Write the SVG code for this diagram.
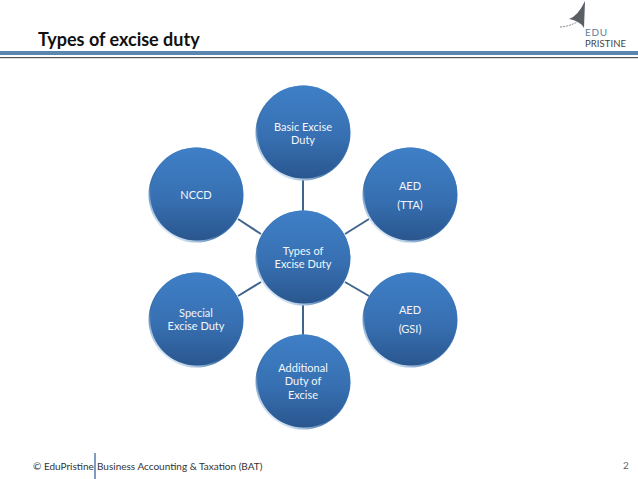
<svg xmlns="http://www.w3.org/2000/svg" width="638" height="479" viewBox="0 0 638 479">
<style>
text{font-family:Lato,"Open Sans","Liberation Sans",sans-serif}
.n{fill:#f2f7fc;font-size:11px;text-anchor:middle}
.c{stroke:#41648c;stroke-width:2;fill:none}
.rim{fill:url(#rim)}
.disc{fill:url(#disc)}
</style>
<defs>
<linearGradient id="disc" x1="0" y1="0" x2="0" y2="1"><stop offset="0" stop-color="#3f7fc6"/><stop offset="0.55" stop-color="#3770b2"/><stop offset="1" stop-color="#2a568e"/></linearGradient>
<linearGradient id="rim" x1="0.2" y1="0.9" x2="0.8" y2="0.1"><stop offset="0" stop-color="#dcebf7"/><stop offset="0.3" stop-color="#3a6ea8"/><stop offset="0.75" stop-color="#3a78be"/><stop offset="1" stop-color="#7fb6e4"/></linearGradient>
<g id="ball"><circle r="47.5" class="rim"/><circle r="46.5" cx="0.7" cy="-0.9" class="disc"/></g>
</defs>
<g id="header">
<text x="38" y="46" font-size="18" font-weight="700" fill="#111">Types of excise duty</text>
<rect x="0" y="51" width="638" height="4" fill="#5b86b0"/>
<rect x="0" y="57" width="638" height="1.2" fill="#555"/>
</g>
<g id="logo">
<path d="M585 1 L584 28 L582 25 Q576 20 569 19 Q578 16 585 1Z" fill="#5a5f66"/>
<path d="M560 27 Q574 26 582 18" stroke="#666" stroke-width="0.8" stroke-dasharray="2 1" fill="none"/>
<text x="585" y="36" font-size="10" fill="#5d7f9c" textLength="22">EDU</text>
<text x="585" y="46.5" font-size="9.5" fill="#444" textLength="41">PRISTINE</text>
</g>
<g id="connectors">
<line class="c" x1="303" y1="180" x2="303" y2="212"/>
<line class="c" x1="345" y1="234" x2="369" y2="219"/>
<line class="c" x1="345" y1="282" x2="369" y2="296"/>
<line class="c" x1="303" y1="305" x2="303" y2="336"/>
<line class="c" x1="261" y1="282" x2="238" y2="296"/>
<line class="c" x1="261" y1="234" x2="238" y2="219"/>
</g>
<g id="node-center"><use href="#ball" x="303" y="258"/><text class="n" x="303" y="255">Types of</text><text class="n" x="303" y="268">Excise Duty</text></g>
<g id="node-basic"><use href="#ball" x="303" y="133"/><text class="n" x="303" y="131">Basic Excise</text><text class="n" x="303" y="144">Duty</text></g>
<g id="node-aed-tta"><use href="#ball" x="410" y="195"/><text class="n" x="410" y="190">AED</text><text class="n" x="410" y="209">(TTA)</text></g>
<g id="node-aed-gsi"><use href="#ball" x="410" y="320"/><text class="n" x="410" y="314">AED</text><text class="n" x="410" y="333">(GSI)</text></g>
<g id="node-additional"><use href="#ball" x="303" y="382"/><text class="n" x="303" y="372">Additional</text><text class="n" x="303" y="385">Duty of</text><text class="n" x="303" y="399">Excise</text></g>
<g id="node-special"><use href="#ball" x="196" y="320"/><text class="n" x="196" y="317">Special</text><text class="n" x="196" y="330">Excise Duty</text></g>
<g id="node-nccd"><use href="#ball" x="196" y="195"/><text class="n" x="196" y="199">NCCD</text></g>
<g id="footer">
<text x="33" y="470" font-size="10" fill="#333">© EduPristine</text>
<rect x="94" y="453" width="2" height="26" fill="#7e9cc0"/>
<text x="97" y="470" font-size="10" fill="#333">Business Accounting &amp; Taxation (BAT)</text>
<text x="623" y="469" font-size="10" fill="#666">2</text>
</g>
</svg>
